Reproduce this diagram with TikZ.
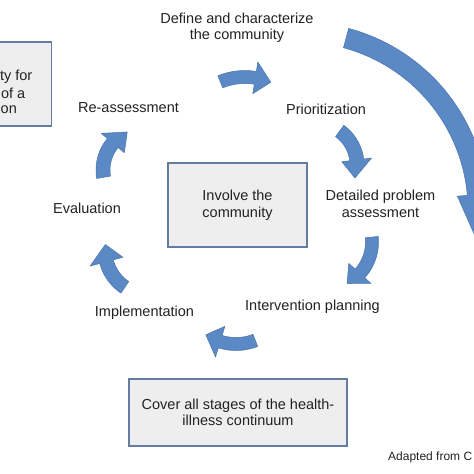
\documentclass[tikz,border=0pt]{standalone}
\usepackage{fontspec}
\setmainfont{Liberation Sans}
\definecolor{arrowblue}{RGB}{90,137,198}
\definecolor{arrowedge}{RGB}{74,116,172}
\definecolor{boxfill}{RGB}{238,238,238}
\definecolor{boxedge}{RGB}{98,124,162}
\definecolor{txt}{RGB}{34,34,34}
\newcommand{\blockarc}[8]{%
 \filldraw[arrowblue, draw=arrowedge, line width=0.5pt, line join=round]
   plot[domain=#6:#7, samples=30, variable=\t] ({#1+(#3+#4)*cos(\t)},{#2+(#3+#4)*sin(\t)})
   -- ({#1+(#3+#5)*cos(#7)},{#2+(#3+#5)*sin(#7)})
   -- ({#1+#3*cos(#8)},{#2+#3*sin(#8)})
   -- ({#1+(#3-#5)*cos(#7)},{#2+(#3-#5)*sin(#7)})
   -- plot[domain=#7:#6, samples=30, variable=\t] ({#1+(#3-#4)*cos(\t)},{#2+(#3-#4)*sin(\t)})
   -- cycle;}
\tikzset{
  lbl/.style={font=\fontsize{14.5}{16.5}\selectfont, text=txt, align=center, inner sep=0pt},
  box/.style={draw=boxedge, fill=boxfill, line width=1.1pt, font=\fontsize{14.5}{16.5}\selectfont, text=txt, align=center, inner sep=0pt},
  note/.style={font=\fontsize{12}{14}\selectfont, text=txt, inner sep=0pt}
}
\begin{document}
\begin{tikzpicture}[x=1pt,y=-1pt]
\useasboundingbox (0,0) rectangle (474,474);
\clip (0,0) rectangle (474,474);
\fill[white] (0,0) rectangle (474,474);
% big arrow
\blockarc{300}{210}{178}{10}{20}{-75}{-5}{9}
% small cycle arrows
\blockarc{245}{143}{66}{6.5}{16}{-112}{-81}{-67}
\blockarc{315}{165}{42}{7}{15}{-54}{-7}{18}
\blockarc{325}{242}{47}{6.5}{15}{-6}{42}{62}
\blockarc{236}{290}{54}{6.5}{16}{69}{107}{124}
\blockarc{150}{250}{45}{7}{17}{124}{165}{187}
\blockarc{145}{170}{42}{7}{15}{170}{220}{245}
% labels
\node[lbl] (define) at (237,27.5) {Define and characterize\\the community};
\node[lbl] (prior) at (326,109) {Prioritization};
\node[lbl] (detail) at (380.5,204) {Detailed problem\\assessment};
\node[lbl] (interv) at (312.5,307) {Intervention planning};
\node[lbl] (impl) at (144.5,313) {Implementation};
\node[lbl] (eval) at (87,208) {Evaluation};
\node[lbl] (reass) at (128.5,108) {Re-assessment};
% boxes
\node[box, minimum width=139pt, minimum height=84pt] (involve) at (237.5,205) {Involve the\\community};
\node[box, minimum width=218pt, minimum height=67pt] (cover) at (238,412.5) {Cover all stages of the health-\\illness continuum};
\node[box, minimum width=122pt, minimum height=84pt, anchor=east] (resp) at (52,84) {};
\node[lbl, anchor=east] (resp1) at (32.5,77) {ty for};
\node[lbl, anchor=east] (resp2) at (25.5,93) {of a};
\node[lbl, anchor=west] (resp3) at (0.5,110) {on};
\node[note, anchor=west] (adapted) at (388,457) {Adapted from C};
\end{tikzpicture}
\end{document}
